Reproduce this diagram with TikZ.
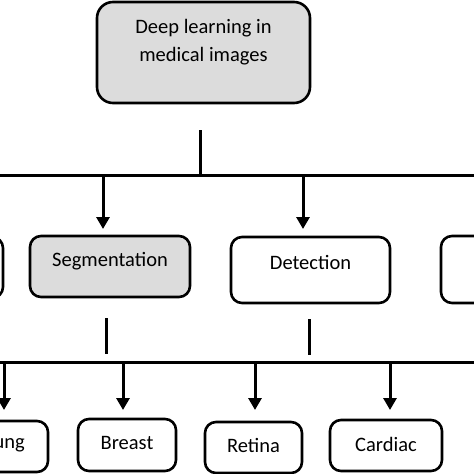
\documentclass[tikz,border=0pt]{standalone}
\usepackage{fontspec}
\setmainfont{Carlito}
\usetikzlibrary{arrows.meta}
\definecolor{boxgray}{HTML}{DCDCDC}
\tikzset{
  box/.style={draw=black, line width=2.6pt, rounded corners=11pt, inner sep=0pt},
  txt/.style={font=\fontsize{20.5}{28}\selectfont, inner sep=0pt, align=center},
  ln/.style={line width=3pt},
  arr/.style={line width=3pt, -{Triangle[width=13pt,length=12pt]}},
}
\begin{document}
\begin{tikzpicture}[x=1pt,y=-1pt]
\useasboundingbox (0,0) rectangle (474,474);
\clip (0,0) rectangle (474,474);
% top box
\node[box, fill=boxgray, rounded corners=16pt, minimum width=213pt, minimum height=101pt] (top) at (203.5,52.5) {};
\node[txt] (toptxt) at (203.5,42) {Deep learning in\\medical images};
% second level
\node[box, minimum width=80pt, minimum height=61pt] (left) at (-37,267.5) {};
\node[box, fill=boxgray, minimum width=160pt, minimum height=61pt] (seg) at (110,266.5) {};
\node[txt] (segtxt) at (110,261) {Segmentation};
\node[box, minimum width=159pt, minimum height=66pt] (det) at (310.5,270) {};
\node[txt] (dettxt) at (310.5,262) {Detection};
\node[box, minimum width=120pt, minimum height=67pt] (right) at (501,269.5) {};
% third level
\node[box, minimum width=86pt, minimum height=51pt] (lung) at (5,446.5) {};
\node[txt] (lungtxt) at (5,444) {Lung};
\node[box, minimum width=98pt, minimum height=52pt] (breast) at (127,445) {};
\node[txt] (breasttxt) at (127,443) {Breast};
\node[box, minimum width=97pt, minimum height=51pt] (retina) at (253.5,447.5) {};
\node[txt] (retinatxt) at (253.5,445) {Retina};
\node[box, minimum width=112pt, minimum height=51pt] (cardiac) at (386,445.5) {};
\node[txt] (cardiactxt) at (386,444) {Cardiac};
% connector coordinates
\coordinate (s0) at (200,130);
\coordinate (s1) at (200,175);
\coordinate (hl) at (-5,175);
\coordinate (hr) at (479,175);
\coordinate (a1) at (103,175);
\coordinate (a1e) at (103,229);
\coordinate (a2) at (303,175);
\coordinate (a2e) at (303,229);
\coordinate (u0) at (106,318);
\coordinate (u1) at (106,354);
\coordinate (v0) at (309,319);
\coordinate (v1) at (309,355);
\coordinate (gl) at (-5,362);
\coordinate (gr) at (479,362);
\coordinate (b1) at (4,362);
\coordinate (b1e) at (4,410);
\coordinate (b2) at (123,362);
\coordinate (b2e) at (123,410);
\coordinate (b3) at (255,362);
\coordinate (b3e) at (255,410);
\coordinate (b4) at (390,362);
\coordinate (b4e) at (390,410);
% connectors
\draw[ln] (s0) -- (s1);
\draw[ln] (hl) -- (hr);
\draw[arr] (a1) -- (a1e);
\draw[arr] (a2) -- (a2e);
\draw[ln] (u0) -- (u1);
\draw[ln] (v0) -- (v1);
\draw[ln] (gl) -- (gr);
\draw[arr] (b1) -- (b1e);
\draw[arr] (b2) -- (b2e);
\draw[arr] (b3) -- (b3e);
\draw[arr] (b4) -- (b4e);
\end{tikzpicture}
\end{document}
